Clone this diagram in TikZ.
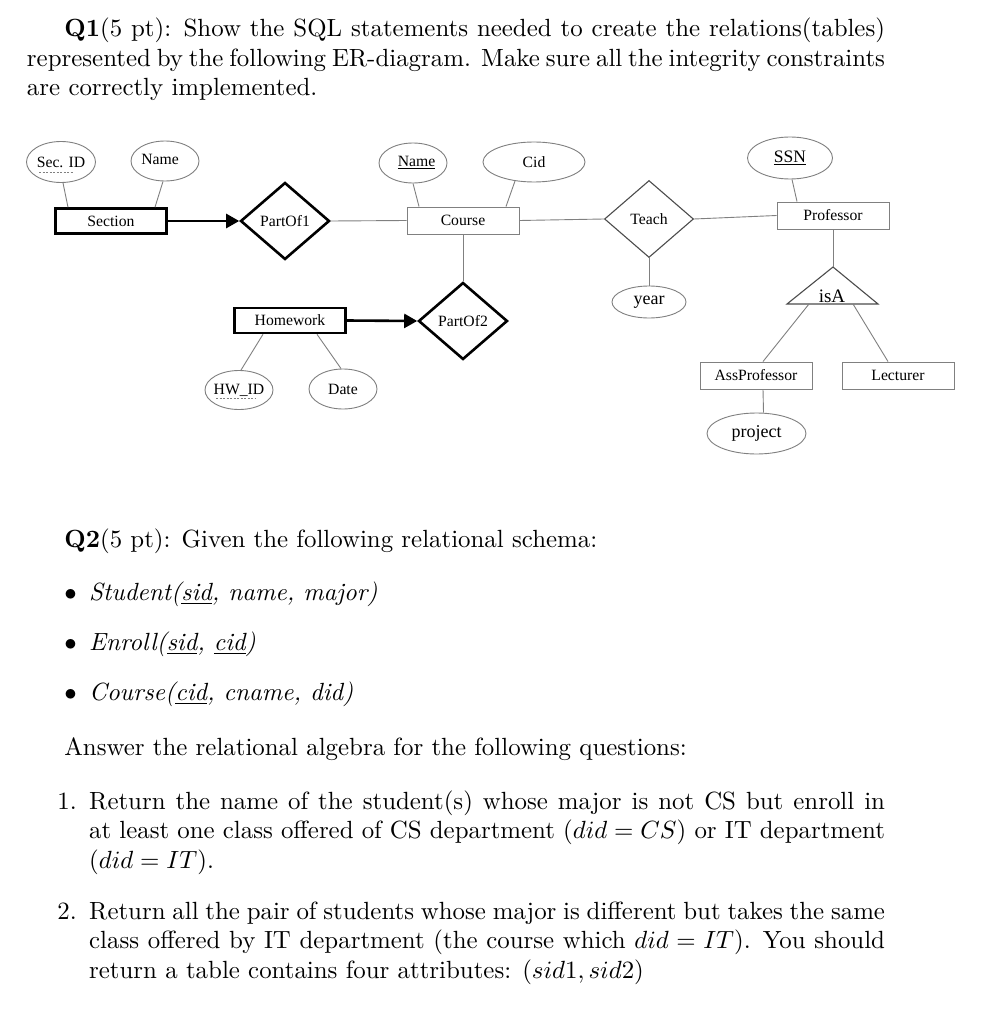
\documentclass[tikz,border=0pt]{standalone}
\usepackage{fontspec}
\usepackage{graphicx}
\usetikzlibrary{shapes.geometric,arrows.meta}
\newfontfamily\tms{Liberation Serif}
\newcommand\qtxt[1]{\scalebox{2.487}{\fontsize{10}{12}\selectfont #1}}
\begin{document}
\begin{tikzpicture}[x=1pt,y=1pt,
  ln/.style={draw=black!50, line width=0.9pt},
  dfont/.style={font=\tms\fontsize{15.7}{18}\selectfont},
  attr/.style={ellipse, draw=black!50, line width=0.9pt, inner sep=0, dfont},
  ent/.style={rectangle, draw=black!50, line width=0.9pt, inner sep=0, minimum width=112, minimum height=27, dfont},
  went/.style={rectangle, draw=black, line width=2.6pt, inner sep=0, minimum width=111, minimum height=25, dfont},
  wrel/.style={diamond, draw=black, line width=2.6pt, inner sep=0, minimum width=89, minimum height=77, dfont},
  rel/.style={diamond, draw=black!70, line width=1.1pt, inner sep=0, minimum width=89, minimum height=77, dfont},
  idarr/.style={draw=black, line width=2.6pt, -{Triangle[length=13pt,width=14pt]}},
  qt/.style={anchor=base west, inner sep=0, outer sep=0},
  ql/.style={anchor=base east, inner sep=0, outer sep=0}
]
\useasboundingbox (0,0) rectangle (985,-1024);
\fill[white] (0,0) rectangle (985,-1024);

% ---------- Q1 text ----------
\node[qt] (q1a) at (64.3,-37) {\qtxt{\makebox[330pt][s]{\textbf{Q1}(5 pt): Show the SQL statements needed to create the relations(tables)}}};
\node[qt] (q1b) at (27,-66.5) {\qtxt{\makebox[345pt][s]{represented by the following ER-diagram. Make sure all the integrity constraints}}};
\node[qt] (q1c) at (27,-96) {\qtxt{are correctly implemented.}};

% ---------- ER diagram ----------
\node[attr, minimum width=69, minimum height=41] (secid) at (61,-162) {\makebox[0pt]{Sec. ID}};
\node[attr, minimum width=68, minimum height=40] (name1) at (165,-161) {\makebox[0pt]{\hspace*{-10pt}\raisebox{4pt}{Name}}};
\node[went] (section) at (111,-221) {Section};
\node[wrel] (partof1) at (285,-221) {\makebox[0pt]{PartOf1}};
\node[ent] (course) at (463,-220.5) {Course};
\node[attr, minimum width=68, minimum height=40] (name2) at (413,-163) {\makebox[0pt]{\hspace*{7pt}\raisebox{3pt}{\underline{Name}}}};
\node[attr, minimum width=102, minimum height=40] (cid) at (534,-162) {\makebox[0pt]{Cid}};
\node[wrel] (partof2) at (463,-321) {\makebox[0pt]{PartOf2}};
\node[went] (homework) at (290,-320.5) {Homework};
\node[attr, minimum width=68, minimum height=39] (hwid) at (239,-390) {\makebox[0pt]{HW\_ID}};
\node[attr, minimum width=68, minimum height=40] (date) at (343,-389) {\makebox[0pt]{Date}};
\node[rel] (teach) at (649,-219) {\makebox[0pt]{Teach}};
\node[attr, minimum width=74, minimum height=32, font=\tms\fontsize{18}{20}\selectfont] (year) at (649,-302) {\makebox[0pt]{year}};
\node[ent] (professor) at (833,-215.5) {Professor};
\node[attr, minimum width=85, minimum height=42, font=\tms\fontsize{17.5}{20}\selectfont] (ssn) at (790,-158) {\makebox[0pt]{\underline{SSN}}};
\node[ent] (assprof) at (756,-375.5) {AssProfessor};
\node[ent] (lecturer) at (898,-375.5) {Lecturer};
\node[attr, minimum width=99, minimum height=41, font=\tms\fontsize{18}{20}\selectfont] (project) at (756.5,-433.5) {\makebox[0pt]{project}};

% isA triangle
\coordinate (isatop) at (833,-267);
\coordinate (isal) at (787,-304);
\coordinate (isar) at (878,-304);
\coordinate (isab1) at (809,-304);
\coordinate (isab2) at (853,-304);
\draw[draw=black!70, line width=1.1pt] (isatop) -- (isal) -- (isar) -- cycle;
\node[inner sep=0, font=\tms\fontsize{19}{21}\selectfont] (isa) at (832,-296) {isA};

% dashed partial-key underlines
\draw[black!50, line width=0.8pt, dash pattern=on 2pt off 1.5pt] ([shift={(-22,-10)}]secid.center) -- ([shift={(13,-10)}]secid.center);
\draw[black!50, line width=0.8pt, dash pattern=on 2pt off 1.5pt] ([shift={(-23,-8)}]hwid.center) -- ([shift={(17,-8)}]hwid.center);

% connectors
\draw[ln] ([xshift=2]secid.south) -- ([xshift=-43]section.north);
\draw[ln] ([xshift=-2]name1.south) -- ([xshift=44]section.north);
\draw[idarr] (section.east) -- (partof1.west);
\draw[ln] (partof1.east) -- (course.west);
\draw[ln] (name2.south) -- ([xshift=-44]course.north);
\draw[ln] (cid.225) -- ([xshift=43]course.north);
\draw[ln] (course.south) -- (partof2.north);
\draw[idarr] (homework.east) -- (partof2.west);
\draw[ln] ([xshift=-27]homework.south) -- ([xshift=2]hwid.north);
\draw[ln] ([xshift=27]homework.south) -- ([xshift=-2]date.north);
\draw[ln] (course.east) -- (teach.west);
\draw[ln] (teach.east) -- (professor.west);
\draw[ln] (teach.south) -- (year.north);
\draw[ln] ([xshift=2]ssn.south) -- ([xshift=-36]professor.north);
\draw[ln] (professor.south) -- (isatop);
\draw[ln] (isab1) -- ([xshift=7]assprof.north);
\draw[ln] (isab2) -- ([xshift=-10]lecturer.north);
\draw[ln] ([xshift=7]assprof.south) -- ([xshift=7]project.north);

% ---------- Q2 text ----------
\node[qt] (q2) at (64.3,-547) {\qtxt{\textbf{Q2}(5 pt): Given the following relational schema:}};
\node[ql] (bl1) at (76.8,-600) {\qtxt{$\bullet$}};
\node[qt] (it1) at (89.2,-600) {\qtxt{\textit{Student(\underline{sid}, name, major)}}};
\node[ql] (bl2) at (76.8,-650) {\qtxt{$\bullet$}};
\node[qt] (it2) at (89.2,-650) {\qtxt{\textit{Enroll(\underline{sid}, \underline{cid})}}};
\node[ql] (bl3) at (76.8,-700) {\qtxt{$\bullet$}};
\node[qt] (it3) at (89.2,-700) {\qtxt{\textit{Course(\underline{cid}, cname, did)}}};
\node[qt] (ans) at (64.3,-755) {\qtxt{Answer the relational algebra for the following questions:}};

\node[ql] (en1) at (76.8,-809) {\qtxt{1.}};
\node[qt] (e1a) at (89.2,-809) {\qtxt{\makebox[320pt][s]{Return the name of the student(s) whose major is not CS but enroll in}}};
\node[qt] (e1b) at (89.2,-838.8) {\qtxt{\makebox[320pt][s]{at least one class offered of CS department ($did = CS$) or IT department}}};
\node[qt] (e1c) at (89.2,-868.7) {\qtxt{($did = IT$).}};

\node[ql] (en2) at (76.8,-919) {\qtxt{2.}};
\node[qt] (e2a) at (89.2,-919) {\qtxt{\makebox[320pt][s]{Return all the pair of students whose major is different but takes the same}}};
\node[qt] (e2b) at (89.2,-948.8) {\qtxt{\makebox[320pt][s]{class offered by IT department (the course which $did = IT$). You should}}};
\node[qt] (e2c) at (89.2,-978.7) {\qtxt{return a table contains four attributes: $(sid1, sid2)$}};
\end{tikzpicture}
\end{document}
